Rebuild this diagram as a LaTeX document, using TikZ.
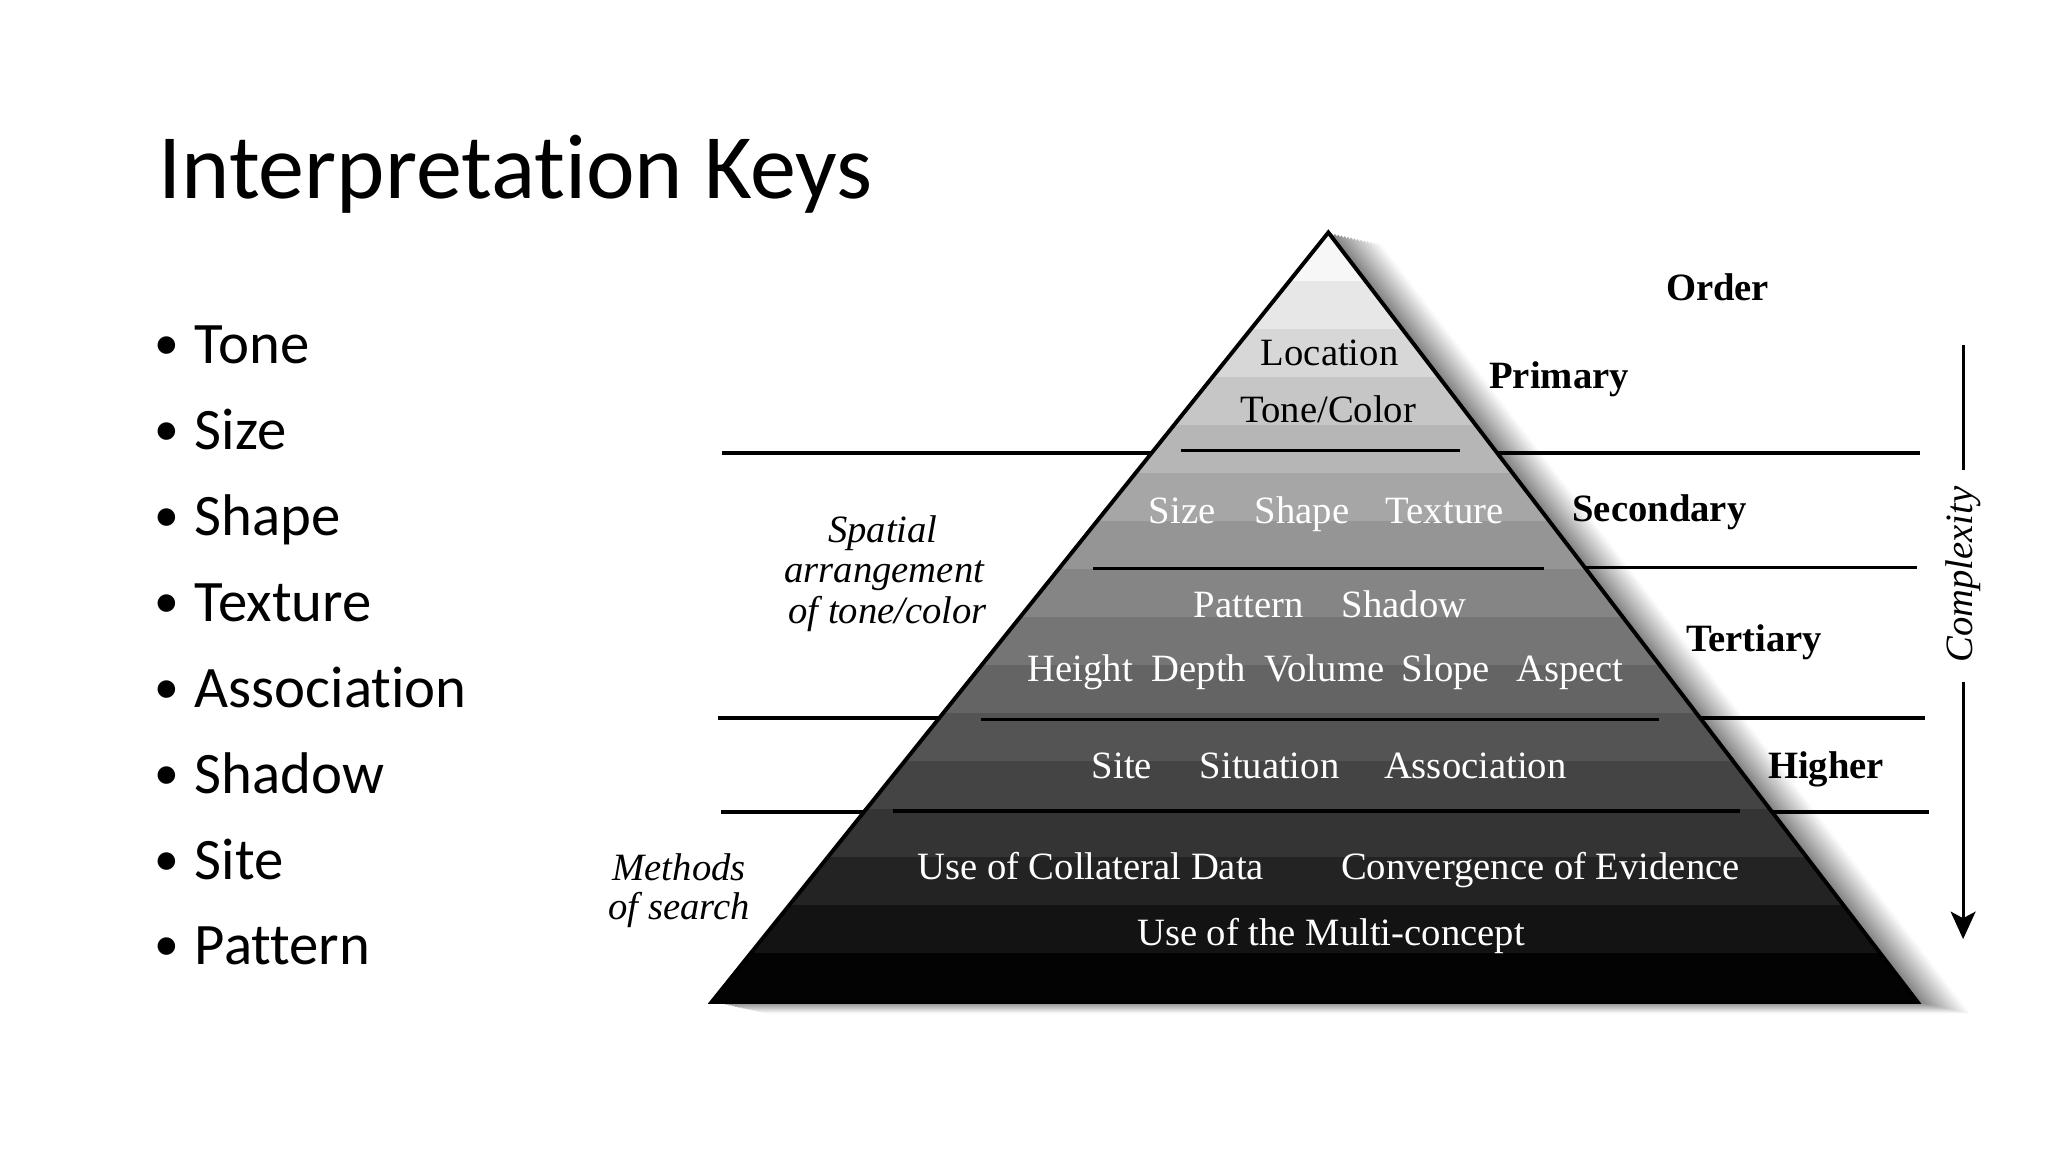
\documentclass[tikz,border=0pt]{standalone}
\usepackage{fontspec}
\setmainfont{Liberation Serif}
\newfontfamily\calib[Ligatures=NoCommon]{Carlito}
\usetikzlibrary{arrows.meta}
\newcommand\pyfont{\fontsize{29.6}{34}\selectfont}
\newcommand\trishape{(1017,178)--(545,767)--(1468,767)--cycle}
\begin{document}
\begin{tikzpicture}[x=1pt,y=-1pt,
  ptxt/.style={inner sep=0pt,anchor=base,font=\pyfont},
  wtxt/.style={ptxt,text=white},
  lbl/.style={inner sep=0pt,anchor=base,font=\pyfont\bfseries},
  itl/.style={inner sep=0pt,anchor=base,font=\pyfont\itshape},
  bul/.style={inner sep=0pt,anchor=base,font=\calib\fontsize{38}{44}\selectfont},
  btxt/.style={inner sep=0pt,anchor=base west,font=\calib\fontsize{45}{54}\selectfont},
  outerline/.style={line width=3pt},
  innerline/.style={line width=2.6pt},
  conn/.style={line width=2.4pt}]
\useasboundingbox (0,0) rectangle (1568,882);
\fill[white] (0,0) rectangle (1568,882);

% title and bullets
\node[inner sep=0pt,anchor=base west,font=\calib\fontsize{70.5}{80}\selectfont] (title) at (121,152) {Interpretation Keys};
\foreach \w [count=\i] in {Tone,Size,Shape,Texture,Association,Shadow,Site,Pattern}{
  \node[bul] (bd\i) at (128,{275.5+(\i-1)*65.74}) {•};
  \node[btxt] (bt\i) at (149,{278.6+(\i-1)*65.74}) {\w};
}

% shadow
\foreach \i in {16,15,...,1}{
  \pgfmathsetmacro\c{52-\i*3.1}
  \begin{scope}[shift={(2.5*\i,0.55*\i)}]
    \fill[black!\c] \trishape;
  \end{scope}
}

% outer lines
\coordinate (oL1a) at (553,346.6);   \coordinate (oL1b) at (881.9,346.6);
\coordinate (oR1a) at (1146.1,346.6);\coordinate (oR1b) at (1470,346.6);
\coordinate (oR2a) at (1213.4,434.5);\coordinate (oR2b) at (1468,434.5);
\coordinate (oL3a) at (549.6,550);   \coordinate (oL3b) at (718.9,550);
\coordinate (oR3a) at (1301.8,550);  \coordinate (oR3b) at (1474,550);
\coordinate (oL4a) at (552,622);     \coordinate (oL4b) at (661.2,622);
\coordinate (oR4a) at (1357,622);    \coordinate (oR4b) at (1477,622);
\draw[outerline] (oL1a)--(oL1b);
\draw[outerline] (oR1a)--(oR1b);
\draw[outerline] (oR2a)--(oR2b);
\draw[outerline] (oL3a)--(oL3b);
\draw[outerline] (oR3a)--(oR3b);
\draw[outerline] (oL4a)--(oL4b);
\draw[outerline] (oR4a)--(oR4b);

% bands
\begin{scope}
  \clip \trishape;
  \foreach \k in {0,...,15}{
    \pgfmathsetmacro\pct{3+\k*6.4}
    \fill[black!\pct] (540,{178+\k*36.8}) rectangle (1475,{178+(\k+1)*36.8+0.6});
  }
\end{scope}

% inner lines
\coordinate (iL1a) at (904,345);  \coordinate (iL1b) at (1118,345);
\coordinate (iL2a) at (837,435.4);\coordinate (iL2b) at (1182,435.4);
\coordinate (iL3a) at (751,551);  \coordinate (iL3b) at (1270,551);
\coordinate (iL4a) at (683.5,621);\coordinate (iL4b) at (1332,621);
\draw[innerline] (iL1a)--(iL1b);
\draw[innerline] (iL2a)--(iL2b);
\draw[innerline] (iL3a)--(iL3b);
\draw[innerline] (iL4a)--(iL4b);

% outline
\draw[line width=3pt,line join=miter] \trishape;

% pyramid texts
\node[ptxt] (loc) at (1018,279.5) {Location};
\node[ptxt] (tone) at (1017,323.5) {Tone/Color};
\node[wtxt] (size) at (905,400.5) {Size};
\node[wtxt] (shape) at (997,400.5) {Shape};
\node[wtxt] (texture) at (1106,400.5) {Texture};
\node[wtxt] (pattern) at (956,473) {Pattern};
\node[wtxt] (shadow) at (1075,473) {Shadow};
\node[wtxt] (height) at (827,522) {Height};
\node[wtxt] (depth) at (918,522) {Depth};
\node[wtxt] (volume) at (1014,522) {Volume};
\node[wtxt] (slope) at (1107,522) {Slope};
\node[wtxt] (aspect) at (1202,522) {Aspect};
\node[wtxt] (site) at (859,596) {Site};
\node[wtxt] (situation) at (972,596) {Situation};
\node[wtxt] (assoc) at (1129.5,596) {Association};
\node[wtxt] (collat) at (835,673) {Use of Collateral Data};
\node[wtxt] (conv) at (1179.4,673) {Convergence of Evidence};
\node[wtxt] (multi) at (1019,724) {Use of the Multi-concept};

% right labels
\node[lbl] (order) at (1315,230) {Order};
\node[lbl] (primary) at (1193.7,297.5) {Primary};
\node[lbl] (secondary) at (1270.5,399.5) {Secondary};
\node[lbl] (tertiary) at (1343,499) {Tertiary};
\node[lbl] (higher) at (1398,596) {Higher};

% left labels
\node[itl] (sp1) at (676,415) {Spatial};
\node[itl] (sp2) at (677,445.7) {arrangement};
\node[itl] (sp3) at (679.6,477.5) {of tone/color};
\node[itl] (ms1) at (520,673.8) {Methods};
\node[itl] (ms2) at (520,704) {of search};

% complexity arrow
\node[itl,rotate=90] (cplx) at (1510,440) {Complexity};
\coordinate (c1) at (1503,264);
\coordinate (c2) at (1503,360);
\coordinate (c3) at (1503,522);
\coordinate (c4) at (1503,719);
\draw[conn] (c1)--(c2);
\draw[conn,-{Stealth[length=21pt,width=19pt,inset=5pt]}] (c3)--(c4);
\end{tikzpicture}
\end{document}
